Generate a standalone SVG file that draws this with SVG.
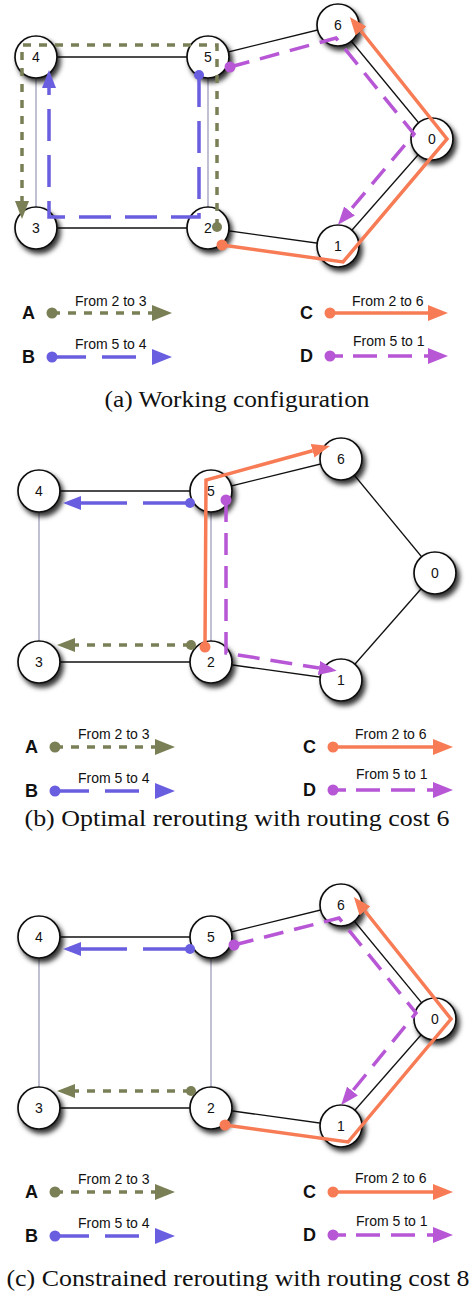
<svg xmlns="http://www.w3.org/2000/svg" width="474" height="1299" viewBox="0 0 474 1299">
<style>
.edge{stroke:#111;stroke-width:1.3;fill:none}
.thin{stroke:#8c8cae;stroke-width:1.1;fill:none}
.node circle{fill:#fff;stroke:#111;stroke-width:1.7;filter:url(#sh)}
.node text{font-family:"Liberation Sans",Arial,sans-serif;font-size:14px;fill:#111;text-anchor:middle}
.pA{stroke:#7b7f55;stroke-width:3.5;fill:none;stroke-dasharray:8 8}
.pB{stroke:#6a5ee0;stroke-width:3.5;fill:none}
.pC{stroke:#f77c56;stroke-width:3.5;fill:none;stroke-linejoin:miter}
.pD{stroke:#b757d6;stroke-width:3.5;fill:none}
.lt{font-family:"Liberation Sans",Arial,sans-serif;font-size:18px;font-weight:bold;fill:#111}
.ft{font-family:"Liberation Sans",Arial,sans-serif;font-size:14px;fill:#111}
.cap{font-family:"Liberation Serif","Times New Roman",serif;font-size:23px;fill:#111;text-anchor:middle}
</style>
<defs>
<filter id="sh" x="-40%" y="-40%" width="190%" height="190%">
<feDropShadow dx="3" dy="4" stdDeviation="2.8" flood-color="#000" flood-opacity="0.8"/>
</filter>
<marker id="mA" markerUnits="userSpaceOnUse" markerWidth="18" markerHeight="14" viewBox="0 0 18 14" refX="0" refY="7" orient="auto"><path d="M0,0 L18,7 L0,14 z" fill="#7b7f55"/></marker>
<marker id="mB" markerUnits="userSpaceOnUse" markerWidth="18" markerHeight="14" viewBox="0 0 18 14" refX="0" refY="7" orient="auto"><path d="M0,0 L18,7 L0,14 z" fill="#6a5ee0"/></marker>
<marker id="mC" markerUnits="userSpaceOnUse" markerWidth="18" markerHeight="14" viewBox="0 0 18 14" refX="0" refY="7" orient="auto"><path d="M0,0 L18,7 L0,14 z" fill="#f77c56"/></marker>
<marker id="mD" markerUnits="userSpaceOnUse" markerWidth="18" markerHeight="14" viewBox="0 0 18 14" refX="0" refY="7" orient="auto"><path d="M0,0 L18,7 L0,14 z" fill="#b757d6"/></marker>
<marker id="lA" markerUnits="userSpaceOnUse" markerWidth="20" markerHeight="16" viewBox="0 0 20 16" refX="0" refY="8" orient="auto"><path d="M0,0 L20,8 L0,16 z" fill="#7b7f55"/></marker>
<marker id="lB" markerUnits="userSpaceOnUse" markerWidth="20" markerHeight="16" viewBox="0 0 20 16" refX="0" refY="8" orient="auto"><path d="M0,0 L20,8 L0,16 z" fill="#6a5ee0"/></marker>
<marker id="lC" markerUnits="userSpaceOnUse" markerWidth="20" markerHeight="16" viewBox="0 0 20 16" refX="0" refY="8" orient="auto"><path d="M0,0 L20,8 L0,16 z" fill="#f77c56"/></marker>
<marker id="lD" markerUnits="userSpaceOnUse" markerWidth="20" markerHeight="16" viewBox="0 0 20 16" refX="0" refY="8" orient="auto"><path d="M0,0 L20,8 L0,16 z" fill="#b757d6"/></marker>
</defs>

<!-- ===== Panel (a) ===== -->
<g id="panel-a">
<g id="a-edges">
<line class="edge" x1="36" y1="57" x2="208" y2="57"/>
<line class="edge" x1="36" y1="228" x2="208" y2="228"/>
<line class="edge" x1="208" y1="57" x2="338" y2="25"/>
<line class="edge" x1="338" y1="25" x2="432" y2="139"/>
<line class="edge" x1="432" y1="139" x2="338" y2="246"/>
<line class="edge" x1="338" y1="246" x2="208" y2="228"/>
<line class="thin" x1="36" y1="57" x2="36" y2="228"/>
<line class="thin" x1="208" y1="57" x2="208" y2="228"/>
</g>
<g id="a-n4" class="node"><circle cx="36" cy="57" r="21"/><text x="36" y="62">4</text></g>
<g id="a-n5" class="node"><circle cx="208" cy="57" r="21"/><text x="208" y="62">5</text></g>
<g id="a-n3" class="node"><circle cx="36" cy="228" r="21"/><text x="36" y="233">3</text></g>
<g id="a-n2" class="node"><circle cx="208" cy="228" r="21"/><text x="208" y="233">2</text></g>
<g id="a-n6" class="node"><circle cx="338" cy="25" r="21"/><text x="338" y="30">6</text></g>
<g id="a-n0" class="node"><circle cx="432" cy="139" r="21"/><text x="432" y="144">0</text></g>
<g id="a-n1" class="node"><circle cx="338" cy="246" r="21"/><text x="338" y="251">1</text></g>
<g id="a-paths">
<path class="pA" d="M217,227 V45 H22 V201" marker-end="url(#mA)"/>
<circle cx="217" cy="227" r="5" fill="#7b7f55"/>
<path class="pB" d="M199,75 V217 H49 V88" stroke-dasharray="32 14" marker-end="url(#mB)"/>
<circle cx="199" cy="75" r="5" fill="#6a5ee0"/>
<path class="pC" d="M222,245 L343,262 L447,139 L361,31" marker-end="url(#mC)"/>
<circle cx="222" cy="245" r="5.5" fill="#f77c56"/>
<path class="pD" d="M230,67 L336,38 L414,134 L349.5,211" stroke-dasharray="20 11" marker-end="url(#mD)"/>
<circle cx="230" cy="67" r="5.5" fill="#b757d6"/>
</g>
<g id="a-legend">
<text class="lt" x="22" y="319">A</text>
<path class="pA" d="M52,313 H152" stroke-dasharray="10 11 9 8 9 8 9 8 9 8 9 8" marker-end="url(#lA)"/>
<circle cx="52" cy="313" r="5.5" fill="#7b7f55"/>
<text class="ft" x="75" y="306">From 2 to 3</text>
<text class="lt" x="22" y="363">B</text>
<path class="pB" d="M52,357 H152" stroke-dasharray="34 16" marker-end="url(#lB)"/>
<circle cx="52" cy="357" r="5.5" fill="#6a5ee0"/>
<text class="ft" x="75" y="349">From 5 to 4</text>
<text class="lt" x="300" y="319">C</text>
<path class="pC" d="M330,313 H428" marker-end="url(#lC)"/>
<circle cx="330" cy="313" r="5.5" fill="#f77c56"/>
<text class="ft" x="352" y="306">From 2 to 6</text>
<text class="lt" x="300" y="362">D</text>
<path class="pD" d="M330,356 H428" stroke-dasharray="13 10 24 11 24 12 30" marker-end="url(#lD)"/>
<circle cx="330" cy="356" r="5.5" fill="#b757d6"/>
<text class="ft" x="353" y="346">From 5 to 1</text>
</g>
</g>
<text id="cap-a" class="cap" x="237" y="407" textLength="265" lengthAdjust="spacingAndGlyphs">(a) Working configuration</text>

<!-- ===== Panel (b) ===== -->
<g id="panel-b" transform="translate(3,434)">
<g id="b-edges">
<line class="edge" x1="36" y1="57" x2="208" y2="57"/>
<line class="edge" x1="36" y1="228" x2="208" y2="228"/>
<line class="edge" x1="208" y1="57" x2="338" y2="25"/>
<line class="edge" x1="338" y1="25" x2="432" y2="139"/>
<line class="edge" x1="432" y1="139" x2="338" y2="246"/>
<line class="edge" x1="338" y1="246" x2="208" y2="228"/>
<line class="thin" x1="36" y1="57" x2="36" y2="228"/>
<line class="thin" x1="208" y1="57" x2="208" y2="228"/>
</g>
<g id="b-n4" class="node"><circle cx="36" cy="57" r="21"/><text x="36" y="62">4</text></g>
<g id="b-n5" class="node"><circle cx="208" cy="57" r="21"/><text x="208" y="62">5</text></g>
<g id="b-n3" class="node"><circle cx="36" cy="228" r="21"/><text x="36" y="233">3</text></g>
<g id="b-n2" class="node"><circle cx="208" cy="228" r="21"/><text x="208" y="233">2</text></g>
<g id="b-n6" class="node"><circle cx="338" cy="25" r="21"/><text x="338" y="30">6</text></g>
<g id="b-n0" class="node"><circle cx="432" cy="139" r="21"/><text x="432" y="144">0</text></g>
<g id="b-n1" class="node"><circle cx="338" cy="246" r="21"/><text x="338" y="251">1</text></g>
<g id="b-paths">
<path class="pA" d="M188,211 H72" marker-end="url(#mA)"/>
<circle cx="188" cy="211" r="5" fill="#7b7f55"/>
<path class="pB" d="M187,69 H78" stroke-dasharray="47 16" marker-end="url(#mB)"/>
<circle cx="187" cy="69" r="5" fill="#6a5ee0"/>
<path class="pC" d="M202,213 L203,46 L309.6,16.8" marker-end="url(#mC)"/>
<circle cx="202" cy="213" r="5.5" fill="#f77c56"/>
<path class="pD" d="M223,66 V219 L316,234" stroke-dasharray="22 11" marker-end="url(#mD)"/>
<circle cx="223" cy="66" r="5.5" fill="#b757d6"/>
</g>
<g id="b-legend">
<text class="lt" x="22" y="319">A</text>
<path class="pA" d="M52,313 H152" stroke-dasharray="10 11 9 8 9 8 9 8 9 8 9 8" marker-end="url(#lA)"/>
<circle cx="52" cy="313" r="5.5" fill="#7b7f55"/>
<text class="ft" x="75" y="305">From 2 to 3</text>
<text class="lt" x="22" y="363">B</text>
<path class="pB" d="M52,357 H152" stroke-dasharray="34 16" marker-end="url(#lB)"/>
<circle cx="52" cy="357" r="5.5" fill="#6a5ee0"/>
<text class="ft" x="75" y="349">From 5 to 4</text>
<text class="lt" x="300" y="319">C</text>
<path class="pC" d="M330,313 H430" marker-end="url(#lC)"/>
<circle cx="330" cy="313" r="5.5" fill="#f77c56"/>
<text class="ft" x="352" y="305">From 2 to 6</text>
<text class="lt" x="300" y="362">D</text>
<path class="pD" d="M330,356 H430" stroke-dasharray="13 10 24 11 24 12 30" marker-end="url(#lD)"/>
<circle cx="330" cy="356" r="5.5" fill="#b757d6"/>
<text class="ft" x="353" y="345">From 5 to 1</text>
</g>
</g>
<text id="cap-b" class="cap" x="237" y="826" textLength="425" lengthAdjust="spacingAndGlyphs">(b) Optimal rerouting with routing cost 6</text>

<!-- ===== Panel (c) ===== -->
<g id="panel-c" transform="translate(3,880)">
<g id="c-edges">
<line class="edge" x1="36" y1="57" x2="208" y2="57"/>
<line class="edge" x1="36" y1="228" x2="208" y2="228"/>
<line class="edge" x1="208" y1="57" x2="338" y2="25"/>
<line class="edge" x1="338" y1="25" x2="432" y2="139"/>
<line class="edge" x1="432" y1="139" x2="338" y2="246"/>
<line class="edge" x1="338" y1="246" x2="208" y2="228"/>
<line class="thin" x1="36" y1="57" x2="36" y2="228"/>
<line class="thin" x1="208" y1="57" x2="208" y2="228"/>
</g>
<g id="c-n4" class="node"><circle cx="36" cy="57" r="21"/><text x="36" y="62">4</text></g>
<g id="c-n5" class="node"><circle cx="208" cy="57" r="21"/><text x="208" y="62">5</text></g>
<g id="c-n3" class="node"><circle cx="36" cy="228" r="21"/><text x="36" y="233">3</text></g>
<g id="c-n2" class="node"><circle cx="208" cy="228" r="21"/><text x="208" y="233">2</text></g>
<g id="c-n6" class="node"><circle cx="338" cy="25" r="21"/><text x="338" y="30">6</text></g>
<g id="c-n0" class="node"><circle cx="432" cy="139" r="21"/><text x="432" y="144">0</text></g>
<g id="c-n1" class="node"><circle cx="338" cy="246" r="21"/><text x="338" y="251">1</text></g>
<g id="c-paths">
<path class="pA" d="M188,211 H72" marker-end="url(#mA)"/>
<circle cx="188" cy="211" r="5" fill="#7b7f55"/>
<path class="pB" d="M187,69 H78" stroke-dasharray="47 16" marker-end="url(#mB)"/>
<circle cx="187" cy="69" r="5" fill="#6a5ee0"/>
<path class="pC" d="M222,245 L345,262 L448,139 L362,31" marker-end="url(#mC)"/>
<circle cx="222" cy="245" r="5.5" fill="#f77c56"/>
<path class="pD" d="M231,65 L336,38 L413,133 L349.5,211" stroke-dasharray="20 11" marker-end="url(#mD)"/>
<circle cx="231" cy="65" r="5.5" fill="#b757d6"/>
</g>
<g id="c-legend">
<text class="lt" x="22" y="318">A</text>
<path class="pA" d="M52,312 H152" stroke-dasharray="10 11 9 8 9 8 9 8 9 8 9 8" marker-end="url(#lA)"/>
<circle cx="52" cy="312" r="5.5" fill="#7b7f55"/>
<text class="ft" x="75" y="304">From 2 to 3</text>
<text class="lt" x="22" y="362">B</text>
<path class="pB" d="M52,356 H152" stroke-dasharray="34 16" marker-end="url(#lB)"/>
<circle cx="52" cy="356" r="5.5" fill="#6a5ee0"/>
<text class="ft" x="75" y="348">From 5 to 4</text>
<text class="lt" x="300" y="318">C</text>
<path class="pC" d="M330,312 H430" marker-end="url(#lC)"/>
<circle cx="330" cy="312" r="5.5" fill="#f77c56"/>
<text class="ft" x="352" y="303">From 2 to 6</text>
<text class="lt" x="300" y="361">D</text>
<path class="pD" d="M330,355 H430" stroke-dasharray="13 10 24 11 24 12 30" marker-end="url(#lD)"/>
<circle cx="330" cy="355" r="5.5" fill="#b757d6"/>
<text class="ft" x="353" y="346">From 5 to 1</text>
</g>
</g>
<text id="cap-c" class="cap" x="238" y="1286" textLength="463" lengthAdjust="spacingAndGlyphs">(c) Constrained rerouting with routing cost 8</text>
</svg>
